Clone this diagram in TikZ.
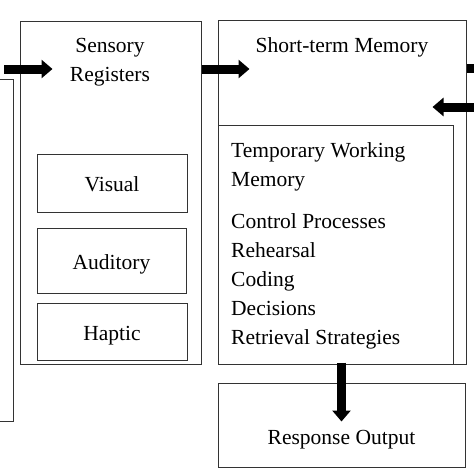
\documentclass[tikz,border=0pt]{standalone}
\usepackage{fontspec}
\setmainfont{Liberation Serif}
\usetikzlibrary{arrows.meta}
\tikzset{
  box/.style={draw=black!80, line width=1pt, inner sep=0pt},
  subbox/.style={box, txt, text height=17pt, text depth=0pt},
  txt/.style={inner sep=0pt, font=\fontsize{21.5}{29}\selectfont},
  bigarrow/.style={line width=9pt, -{Triangle[width=18pt,length=11pt]}},
}
\begin{document}
\begin{tikzpicture}[x=1pt,y=-1pt]
  \useasboundingbox (0,0) rectangle (474,474);
  % boxes
  \node[box, minimum width=43pt, minimum height=342pt] (input) at (-8.5,250) {};
  \node[box, minimum width=181pt, minimum height=343pt] (sensory) at (110.5,192.5) {};
  \node[subbox, minimum width=150pt, minimum height=58pt] (visual) at (112,183) {Visual};
  \node[subbox, minimum width=149pt, minimum height=65pt] (auditory) at (111.5,260.5) {Auditory};
  \node[subbox, minimum width=150pt, minimum height=57pt] (haptic) at (112,331.5) {Haptic};
  \node[box, minimum width=248pt, minimum height=344pt] (stm) at (342,192) {};
  \node[box, minimum width=235pt, minimum height=239pt] (workmem) at (335.5,244.5) {};
  \node[box, minimum width=247pt, minimum height=84pt] (response) at (341.5,425) {};
  % texts
  \node[txt, align=center, anchor=north] (senstitle) at (110,38.5) {Sensory\\Registers};
  \node[txt, anchor=base] (stmtitle) at (342,52) {Short-term Memory};
  \node[txt, align=left, anchor=north west] (wmtext) at (231,142.3)
    {Temporary Working\\Memory\\[13pt]Control Processes\\Rehearsal\\Coding\\Decisions\\Retrieval Strategies};
  \node[txt, anchor=base] (resptitle) at (341.5,444) {Response Output};
  % arrows
  \coordinate (inleft) at (4,69);
  \coordinate (outright) at (490,68);
  \coordinate (backright) at (480,107);
  \draw[bigarrow] (inleft) -- ([xshift=33pt]sensory.west |- inleft);
  \draw[bigarrow] (sensory.east |- inleft) -- ([xshift=32pt]stm.west |- inleft);
  \draw[bigarrow] (stm.east |- outright) -- (outright);
  \draw[bigarrow] (backright) -- ([xshift=-34pt]stm.east |- backright);
  \draw[bigarrow] ([yshift=2pt]workmem.south -| response.north) -- ([yshift=-39pt]response.north);
\end{tikzpicture}
\end{document}
